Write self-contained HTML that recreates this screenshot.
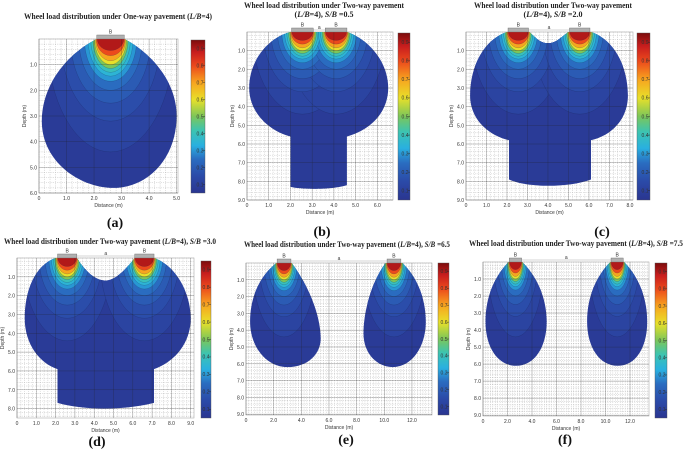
<!DOCTYPE html>
<html><head><meta charset="utf-8"><style>
html,body{margin:0;padding:0;background:#fff;}
svg{display:block;font-family:"Liberation Serif",serif;}
.t{font-weight:bold;font-size:8px;text-anchor:middle;fill:#222}
.tk{font-family:"Liberation Sans",sans-serif;font-size:5px;fill:#333}
.pl{font-weight:bold;font-size:14px;text-anchor:middle;fill:#111}
</style></head><body>
<svg id="fig" width="685" height="450" viewBox="0 0 685 450">
<defs>
<linearGradient id="cmap" x1="0" y1="1" x2="0" y2="0">
<stop offset="0" stop-color="#2a3590"/><stop offset="0.11" stop-color="#2b4aa8"/>
<stop offset="0.22" stop-color="#2a6cc0"/><stop offset="0.31" stop-color="#29b0e0"/>
<stop offset="0.41" stop-color="#3dc4b0"/><stop offset="0.5" stop-color="#7cc65a"/>
<stop offset="0.61" stop-color="#e8e02a"/><stop offset="0.72" stop-color="#f7a51f"/>
<stop offset="0.83" stop-color="#ec4a1c"/><stop offset="0.92" stop-color="#c81e1e"/>
<stop offset="1" stop-color="#7c0c0c"/></linearGradient>
</defs>
<text class="t" x="118" y="19" textLength="188" lengthAdjust="spacingAndGlyphs">Wheel load distribution under One-way pavement (<tspan font-style="italic">L/B</tspan>=4)</text>
<text class="t" x="324" y="8" textLength="160" lengthAdjust="spacingAndGlyphs">Wheel load distribution under Two-way pavement</text>
<text class="t" x="324" y="17">(<tspan font-style="italic">L/B</tspan>=4), <tspan font-style="italic">S/B</tspan> =0.5</text>
<text class="t" x="553" y="8" textLength="158" lengthAdjust="spacingAndGlyphs">Wheel load distribution under Two-way pavement</text>
<text class="t" x="553" y="17">(<tspan font-style="italic">L/B</tspan>=4), <tspan font-style="italic">S/B</tspan> =2.0</text>
<text class="t" x="110" y="244" textLength="212" lengthAdjust="spacingAndGlyphs">Wheel load distribution under Two-way pavement (<tspan font-style="italic">L/B</tspan>=4), <tspan font-style="italic">S/B</tspan> =3.0</text>
<text class="t" x="347" y="247" textLength="206" lengthAdjust="spacingAndGlyphs">Wheel load distribution under Two-way pavement (<tspan font-style="italic">L/B</tspan>=4), <tspan font-style="italic">S/B</tspan> =6.5</text>
<text class="t" x="576" y="246" textLength="214" lengthAdjust="spacingAndGlyphs">Wheel load distribution under Two-way pavement (<tspan font-style="italic">L/B</tspan>=4), <tspan font-style="italic">S/B</tspan> =7.5</text>
<text class="pl" x="115" y="227">(a)</text>
<text class="pl" x="322" y="236">(b)</text>
<text class="pl" x="602" y="236">(c)</text>
<text class="pl" x="97" y="446">(d)</text>
<text class="pl" x="346" y="444">(e)</text>
<text class="pl" x="565" y="444">(f)</text>
</svg>
<script>
// contour data (stress ratio levels and their bulb extents in metres)
const contourLevels=[0.12,0.16,0.2,0.25,0.3,0.35,0.4,0.5,0.6,0.7,0.8,0.9];
const contourRy=[4.4,3.2,2.5,2.0,1.65,1.45,1.3,1.15,1.0,0.85,0.65,0.45];
const contourRx=[2.3,1.8,1.45,1.15,0.95,0.82,0.72,0.64,0.58,0.55,0.52,0.48];
const colorbarTicks=[0.1,0.2,0.3,0.4,0.5,0.6,0.7,0.8,0.9];
const loadsA=[2.6], loadsB=[2.55,4.1], loadsC=[2.55,5.55], loadsD=[2.6,6.6], loadsE=[2.75,10.7], loadsF=[2.65,10.95];
const xTicksA=[0,1,2,3,4,5], xTicksB=[0,1,2,3,4,5,6], xTicksC=[0,1,2,3,4,5,6,7,8];
const xTicksD=[0,1,2,3,4,5,6,7,8,9], xTicksE=[0,2,4,6,8,10,12], xTicksF=[0,2,4,6,8,10,12];
const yTicksA=[1,2,3,4,5,6], yTicks9=[1,2,3,4,5,6,7,8,9], yTicksD=[1,2,3,4,5,6,7,8];
const blobA=[[['M',2.1,0],['C',1.0,0.6,0.1,1.8,0.1,3.2],['C',0.1,4.8,1.5,5.8,2.7,5.8],['C',4.0,5.8,5.0,4.6,5.0,3.0],['C',5.0,1.6,4.0,0.5,3.1,0],['Z']]];
const blobB=[[['M',2.0,0],['C',1.0,0.3,0.1,1.5,0.1,3.0],['C',0.1,4.3,1.0,5.3,2.0,5.6],['L',2.0,8.3],['C',2.5,8.45,4.0,8.45,4.6,8.2],['L',4.6,5.6],['C',5.8,5.2,6.5,4.2,6.5,3.0],['C',6.5,1.6,5.6,0.4,4.6,0],['Z']]];
const blobC=[[['M',2.0,0],['C',0.9,0.4,0.2,1.8,0.2,3.4],['C',0.2,4.6,1.0,5.5,2.1,5.8],['L',2.1,7.9],['C',3,8.35,5,8.35,6.1,7.9],['L',6.1,5.8],['C',7.2,5.5,7.9,4.6,7.9,3.4],['C',7.9,1.8,7.2,0.4,6.1,0],['L',5.0,0],['C',4.6,0.3,4.4,0.6,4.0,0.6],['C',3.6,0.6,3.4,0.3,3.1,0],['Z']]];
const blobD=[[['M',2.0,0],['C',0.9,0.4,0.4,1.8,0.4,3.2],['C',0.4,4.6,1.2,5.6,2.1,5.9],['L',2.1,7.7],['C',3.5,8.1,5.5,8.1,7.1,7.7],['L',7.1,5.9],['C',8.2,5.5,9.0,4.5,9.0,3.2],['C',9.0,1.8,8.2,0.4,7.1,0],['L',6.1,0],['C',5.5,0.8,5.0,1.2,4.6,1.2],['C',4.1,1.2,3.6,0.8,3.1,0],['Z']]];
const blobE=[[['M',2.2,0],['C',1.0,0.8,0.3,2.0,0.3,3.5],['C',0.3,5.0,1.5,6.2,3.0,6.2],['C',4.5,6.2,5.4,5.4,5.4,4.5],['C',5.4,3.0,4.4,1.2,3.3,0],['Z']],
 [['M',10.1,0],['C',9.0,1.2,8.5,3.0,8.5,4.2],['C',8.5,5.4,9.5,6.2,10.6,6.2],['C',12.0,6.2,13.0,5.0,13.0,3.5],['C',13.0,2.0,12.3,0.8,11.3,0],['Z']]];
const blobF=[[['M',2.1,0],['C',1.0,0.8,0.2,2.0,0.2,3.5],['C',0.2,5.0,1.2,6.1,2.7,6.1],['C',4.2,6.1,5.2,5.0,5.2,3.5],['C',5.2,2.0,4.3,0.8,3.2,0],['Z']],
 [['M',10.4,0],['C',9.3,0.8,8.5,2.0,8.5,3.5],['C',8.5,5.0,9.5,6.1,11.0,6.1],['C',12.5,6.1,13.4,5.0,13.4,3.5],['C',13.4,2.0,12.6,0.8,11.5,0],['Z']]];

const NS='http://www.w3.org/2000/svg';
const svg=document.getElementById('fig');
const stops=[[0.05,'#2a3590'],[0.15,'#2b4aa8'],[0.25,'#2a6cc0'],[0.33,'#29b0e0'],[0.42,'#3dc4b0'],[0.5,'#7cc65a'],[0.6,'#e8e02a'],[0.7,'#f7a51f'],[0.8,'#ec4a1c'],[0.88,'#c81e1e'],[0.95,'#7c0c0c']];
function hex(c){return [1,3,5].map(i=>parseInt(c.substr(i,2),16));}
function cmap(v){for(let i=1;i<stops.length;i++){if(v<=stops[i][0]){const a=stops[i-1],b=stops[i];const t=(v-a[0])/(b[0]-a[0]);const ca=hex(a[1]),cb=hex(b[1]);return 'rgb('+ca.map((x,k)=>Math.round(x+(cb[k]-x)*t)).join(',')+')';}}return stops[stops.length-1][1];}
function mk(tag,attrs,parent){const e=document.createElementNS(NS,tag);for(const k in attrs)e.setAttribute(k,attrs[k]);(parent||svg).appendChild(e);return e;}
let cid=0;
function panel(id,x0,x1,y0,y1,xmax,ymax,xt,yt,loads,blobs,cbx,cbw,cby0,cby1){
  const sx=v=>x0+v*(x1-x0)/xmax, sy=v=>y0+v*(y1-y0)/ymax;
  const g=mk('g',{});
  
  
  for(let v=0;v<=xmax+1e-6;v+=0.2){mk('line',{x1:sx(v),x2:sx(v),y1:y0,y2:y1,stroke:'#888','stroke-width':0.4,'stroke-dasharray':'0.6 1.2'},g);}
  for(let v=0;v<=ymax+1e-6;v+=0.2){mk('line',{x1:x0,x2:x1,y1:sy(v),y2:sy(v),stroke:'#888','stroke-width':0.4,'stroke-dasharray':'0.6 1.2'},g);}
  mk('rect',{x:x0,y:y0,width:x1-x0,height:y1-y0,fill:'none',stroke:'#aaa','stroke-width':0.6},g);
  const d=blobs.map(b=>b.map(s=>{if(s[0]==='Z')return 'Z';let out=s[0];for(let i=1;i<s.length;i+=2)out+=' '+sx(s[i]).toFixed(1)+' '+sy(s[i+1]).toFixed(1);return out;}).join(' ')).join(' ');
  const cp=mk('clipPath',{id:'cl'+(++cid)},g);mk('path',{d:d},cp);
  const blob=mk('path',{d:d,fill:cmap(0.08)},g);
  
  
  const cg=mk('g',{'clip-path':'url(#cl'+cid+')'},g);
  contourLevels.forEach((lv,i)=>{loads.forEach(c=>{
    const e=mk('ellipse',{cx:sx(c),cy:y0,rx:contourRx[i]*(x1-x0)/xmax,ry:contourRy[i]*(y1-y0)/ymax,fill:cmap(lv),stroke:'#1a2250','stroke-width':0.35,'stroke-opacity':0.5},cg);
    
    
  });});
  xt.forEach(v=>mk('line',{x1:sx(v),x2:sx(v),y1:y0,y2:y1,stroke:'#222','stroke-width':0.4,'stroke-opacity':0.55},g));
  yt.forEach(v=>mk('line',{x1:x0,x2:x1,y1:sy(v),y2:sy(v),stroke:'#222','stroke-width':0.4,'stroke-opacity':0.55},g));
  xt.forEach(v=>{const t=mk('text',{x:sx(v),y:y1+7,'text-anchor':'middle',class:'tk'},g);t.textContent=v===0?'0':v.toFixed(1);});
  yt.forEach(v=>{const t=mk('text',{x:x0-2,y:sy(v)+2,'text-anchor':'end',class:'tk'},g);t.textContent=v.toFixed(1);});
  const xl=mk('text',{x:(x0+x1)/2,y:y1+14,'text-anchor':'middle',class:'tk','font-size':'5.5'},g);xl.textContent='Distance (m)';
  
  
  const yx=x0-13,yy=(y0+y1)/2;
  const yl=mk('text',{x:yx,y:yy,'text-anchor':'middle',class:'tk','font-size':'5.5',transform:'rotate(-90 '+yx+' '+yy+')'},g);yl.textContent='Depth (m)';
  
  
  if(loads.length>1){mk('line',{x1:sx(loads[0]),x2:sx(loads[1]),y1:y0-2,y2:y0-2,stroke:'#aaa','stroke-width':0.5},g);
    const a=mk('text',{x:(sx(loads[0])+sx(loads[1]))/2,y:y0-3,'text-anchor':'middle',class:'tk'},g);a.textContent='a';}
  loads.forEach(c=>{const r=mk('rect',{x:sx(c-0.5),y:y0-4,width:(x1-x0)/xmax,height:4,fill:'#b0b0b0',stroke:'#666','stroke-width':0.4},g);
    
    
    const b=mk('text',{x:sx(c),y:y0-5.5,'text-anchor':'middle',class:'tk'},g);b.textContent='B';});
  const cb=mk('rect',{x:cbx,y:cby0,width:cbw,height:cby1-cby0,fill:'url(#cmap)',stroke:'#555','stroke-width':0.4},g);
  
  
  const cy=v=>cby1-(v-0.05)/0.9*(cby1-cby0);
  colorbarTicks.forEach(v=>{mk('line',{x1:cbx+cbw-2,x2:cbx+cbw,y1:cy(v),y2:cy(v),stroke:'#222','stroke-width':0.4},g);
    const t=mk('text',{x:cbx+cbw-1.5,y:cy(v)+1.8,'text-anchor':'end',class:'tk','font-size':'4.5'},g);t.textContent=v.toFixed(1);});
}
panel('a',39,178,39,193,5.05,6,xTicksA,yTicksA,loadsA,blobA,191,14,40,193);
panel('b',247,393,32,200,6.72,9,xTicksB,yTicks9,loadsB,blobB,398,12,33,200);
panel('c',466,633,32,200,8.15,9,xTicksC,yTicks9,loadsC,blobC,637,13,33,200);
panel('d',17,194,258,418,9.17,8.5,xTicksD,yTicksD,loadsD,blobD,201,10,261,418);
panel('e',246,432,263,415,13.45,9.05,xTicksE,yTicks9,loadsE,blobE,438,11,263,415);
panel('f',483,649,262,416,13.55,9.05,xTicksF,yTicks9,loadsF,blobF,655,12,263,418);
</script>
</body></html>
